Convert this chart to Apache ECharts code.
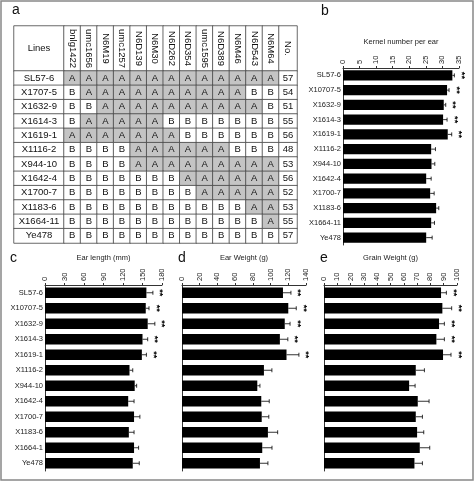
<!DOCTYPE html><html><head><meta charset="utf-8">
<script src="https://cdn.jsdelivr.net/npm/echarts@6/dist/echarts.min.js"></script>
<style>html,body{margin:0;padding:0;background:#fff}#c{width:474px;height:481px}</style></head><body><div id="c"></div>
<script>
var markers=['bnlg1422','umc1656','N6M19','umc1257','N6D139','N6M30','N6D262','N6D354','umc1595','N6D389','N6M46','N6D543','N6M64'];
var tableLines=['SL57-6','X1707-5','X1632-9','X1614-3','X1619-1','X1116-2','X944-10','X1642-4','X1700-7','X1183-6','X1664-11','Ye478'];
var genotypes=['AAAAAAAAAAAAA','BAAAAAAAAAABB','BBAAAAAAAAAAB','BAAAAABBBBBBB','AAAAAAABBBBBB','BBBBAAAAAABBB','BBBBAAAAAAAAA','BBBBBBBAAAAAA','BBBBBBBBAAAAA','BBBBBBBBBBBAA','BBBBBBBBBBBBA','BBBBBBBBBBBBB'];
var counts=[57,54,51,55,56,48,53,56,52,53,55,57];
var barLines=['SL57-6','X10707-5','X1632-9','X1614-3','X1619-1','X1116-2','X944-10','X1642-4','X1700-7','X1183-6','X1664-11','Ye478'];
var barLinesC=['SL57-6','X10707-5','X1632-9','X1614-3','X1619-1','X1116-2','X944-10','X1642-4','X1700-7','X1183-6','X1664-1','Ye478'];
var kernel=[33,31.4,30.4,30.2,31.6,26.6,26.7,25.1,26.3,28.1,26.6,25.1];
var kernelErr=[0.6,0.6,0.6,1.2,1.2,1.3,1.0,1.5,1.2,0.8,1.0,1.8];
var earLen=[156,155,158,150,149,130,138,128,137,129,137,135];
var earLenErr=[10,5,11,8,7,5,3,9,9,8,7,10];
var earW=[114,120,116,110.5,118,92.5,85,89.5,90,97,90.6,88];
var earWErr=[9,9,6,9,14,9,3,9,8,11,11,9];
var grainW=[88,89,86.5,84.5,89.5,69,64,70.5,69,70,72,68];
var grainWErr=[4,7,4,6,6,6.5,4.5,8.5,5,5,7.5,6];
var signif=[1,1,1,1,1,0,0,0,0,0,0,0];
var chart=echarts.init(document.getElementById('c'));
var grids=[],xA=[],yA=[],series=[];
var F='Arial, Liberation Sans, sans-serif';
function cellGrid(l,t,w,h,xc,yc,data,labelFn,rot){
  var gi=grids.length;
  grids.push({left:l,top:t,width:w,height:h});
  xA.push({type:'category',data:xc,gridIndex:gi,show:false});
  yA.push({type:'category',data:yc,gridIndex:gi,show:false,inverse:true});
  series.push({type:'heatmap',xAxisIndex:gi,yAxisIndex:gi,data:data,
    itemStyle:{borderColor:'#444',borderWidth:0.8},
    label:{show:true,fontFamily:F,fontSize:9.5,color:'#111',rotate:rot||0,formatter:labelFn},
    emphasis:{disabled:true}});
}
cellGrid(14,26,50,45,['h'],['h'],[{value:[0,0,0],itemStyle:{color:'#fff'}}],function(){return 'Lines';});
cellGrid(64,26,215,45,markers,['h'],markers.map(function(m,i){return {value:[i,0,0],itemStyle:{color:'#fff'}};}),function(p){return markers[p.value[0]];},-90);
cellGrid(279,26,18,45,['h'],['h'],[{value:[0,0,0],itemStyle:{color:'#fff'}}],function(){return 'No.';},-90);
cellGrid(14,71,50,172,['l'],tableLines,tableLines.map(function(n,i){return {value:[0,i,0],itemStyle:{color:'#fff'}};}),function(p){return tableLines[p.value[1]];});
var bd=[];
genotypes.forEach(function(g,r){for(var c=0;c<g.length;c++){bd.push({value:[c,r,g[c]==='A'?1:0],itemStyle:{color:g[c]==='A'?'#c4c4c4':'#fff'}});}});
cellGrid(64,71,215,172,markers,tableLines,bd,function(p){return genotypes[p.value[1]][p.value[0]];});
cellGrid(279,71,18,172,['n'],tableLines,counts.map(function(n,i){return {value:[0,i,0],itemStyle:{color:'#fff'}};}),function(p){return counts[p.value[1]];});

function barPanel(l,t,w,h,cats,vals,errs,max,interval,name,nameGap,showCat){
  var gi=grids.length;
  grids.push({left:l,top:t,width:w,height:h});
  xA.push({type:'value',gridIndex:gi,position:'top',min:0,max:max,interval:interval,
    name:name,nameLocation:'middle',nameGap:nameGap,nameTextStyle:{fontFamily:F,fontSize:7.5,color:'#222'},
    splitLine:{show:false},axisLine:{show:true,lineStyle:{color:'#333'}},axisTick:{show:true,length:2,lineStyle:{color:'#333'}},
    axisLabel:{rotate:-90,fontSize:7.5,fontFamily:F,color:'#222',margin:4}});
  yA.push({type:'category',gridIndex:gi,data:cats,inverse:true,
    axisLine:{lineStyle:{color:'#333'}},axisTick:{length:2,lineStyle:{color:'#333'}},
    axisLabel:{show:showCat,fontSize:7.5,fontFamily:F,color:'#222',margin:2}});
  series.push({type:'bar',xAxisIndex:gi,yAxisIndex:gi,data:vals,barCategoryGap:'32%',itemStyle:{color:'#000'},silent:true});
  series.push({type:'custom',xAxisIndex:gi,yAxisIndex:gi,silent:true,
    data:vals.map(function(v,i){return [v,i,errs[i],signif[i]];}),
    renderItem:function(params,api){
      var v=api.value(0),i=api.value(1),e=api.value(2),s=api.value(3);
      var p0=api.coord([v,i]),p1=api.coord([v+e,i]);
      var ch=[{type:'line',shape:{x1:p0[0],y1:p0[1],x2:p1[0],y2:p1[1]},style:{stroke:'#000',lineWidth:0.8}},
        {type:'line',shape:{x1:p1[0],y1:p1[1]-2,x2:p1[0],y2:p1[1]+2},style:{stroke:'#000',lineWidth:0.8}}];
      if(s){ch.push({type:'text',x:p1[0]+7,y:p1[1],rotation:-Math.PI/2,style:{text:'**',fontSize:9,fontWeight:'bold',fontFamily:F,fill:'#000',align:'center',verticalAlign:'middle'}});}
      return {type:'group',children:ch};
    }});
}
barPanel(343,68,116,177,barLines,kernel,kernelErr,35,5,'Kernel number per ear',22,true);
barPanel(45,285,117,186,barLinesC,earLen,earLenErr,180,30,'Ear length (mm)',23,true);
barPanel(182,285,124,186,barLinesC,earW,earWErr,140,20,'Ear Weight (g)',23,false);
barPanel(324,285,133,186,barLinesC,grainW,grainWErr,100,10,'Grain Weight (g)',23,false);
chart.setOption({animation:false,grid:grids,xAxis:xA,yAxis:yA,series:series,
  graphic:[
    {type:'rect',shape:{x:1,y:1,width:472,height:479},style:{fill:'none',stroke:'#888',lineWidth:1.5}},
    {type:'text',left:12,top:3,style:{text:'a',fontSize:14,fontFamily:F,fill:'#111'}},
    {type:'text',left:321,top:4,style:{text:'b',fontSize:14,fontFamily:F,fill:'#111'}},
    {type:'text',left:10,top:251,style:{text:'c',fontSize:14,fontFamily:F,fill:'#111'}},
    {type:'text',left:178,top:251,style:{text:'d',fontSize:14,fontFamily:F,fill:'#111'}},
    {type:'text',left:320,top:251,style:{text:'e',fontSize:14,fontFamily:F,fill:'#111'}}
  ]});
</script></body></html>
